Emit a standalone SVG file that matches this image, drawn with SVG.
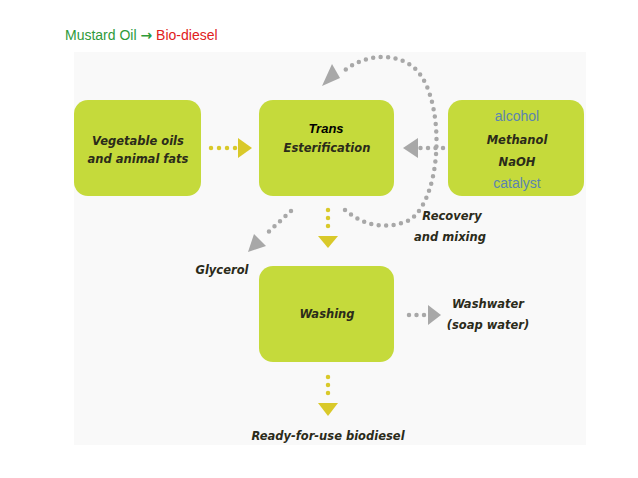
<svg xmlns="http://www.w3.org/2000/svg" width="638" height="478" viewBox="0 0 638 478">
<style>
.box{fill:#c5da3b}
.lbl{font-family:"DejaVu Sans",sans-serif;font-weight:bold;font-style:italic;font-size:11.5px;fill:#2b2b1a;text-anchor:middle}
.blue{font-family:"Liberation Sans",sans-serif;font-size:14px;fill:#5b84b0;text-anchor:middle}
.dy{stroke:#d9c92a;stroke-width:4.5;stroke-linecap:round;stroke-dasharray:0 8;fill:none}
.dg{stroke:#a8a8a8;stroke-width:4.5;stroke-linecap:round;stroke-dasharray:0 7.5;fill:none}
</style>
<rect width="638" height="478" fill="#fff"/>
<rect x="74" y="52" width="512" height="393" fill="#f9f9f9"/>
<text x="65" y="40" font-family="Liberation Sans,sans-serif" font-size="14"><tspan fill="#2e9a3a">Mustard Oil </tspan><tspan fill="#2e9a3a" font-family="DejaVu Sans,sans-serif" font-weight="bold">→</tspan><tspan fill="#e02020"> Bio-diesel</tspan></text>
<g id="veg"><rect class="box" x="74" y="100" width="127" height="96" rx="14"/><text class="lbl" x="138" y="145">Vegetable oils</text><text class="lbl" x="138" y="163">and animal fats</text></g>
<g id="trans"><rect class="box" x="259" y="100" width="135" height="96" rx="14"/><text x="326" y="133" font-family="Liberation Sans,sans-serif" font-weight="bold" font-style="italic" font-size="13" text-anchor="middle">Trans</text><text class="lbl" x="327" y="152">Esterification</text></g>
<g id="meth"><rect class="box" x="448" y="100" width="136" height="96" rx="14"/><text class="blue" x="517" y="121">alcohol</text><text class="lbl" x="517" y="144">Methanol</text><text class="lbl" x="517" y="166">NaOH</text><text class="blue" x="517" y="188">catalyst</text></g>
<g id="wash"><rect class="box" x="259" y="266" width="135" height="96" rx="14"/><text class="lbl" x="327" y="318">Washing</text></g>
<g id="texts">
<text class="lbl" x="452" y="220">Recovery</text><text class="lbl" x="450" y="241">and mixing</text>
<text class="lbl" x="222" y="274">Glycerol</text>
<text class="lbl" x="488" y="308">Washwater</text><text class="lbl" x="488" y="329">(soap water)</text>
<text class="lbl" x="328" y="440">Ready-for-use biodiesel</text>
</g>
<g id="connectors">
<path class="dy" d="M211 148 H236"/><polygon points="238,138 252,148 238,158" fill="#d9c92a"/>
<path class="dg" d="M443 148 H420"/><polygon points="418,138 403,148 418,158" fill="#a8a8a8"/>
<path class="dg" d="M345 210 Q375 235 410 220 C445 195 445 90 412 66 C392 52 365 55 345 70"/><polygon points="322,86 340,78 332,64" fill="#a8a8a8"/>
<path class="dy" d="M328 210 V228"/><polygon points="318,236 338,236 328,248" fill="#d9c92a"/>
<path class="dg" d="M291 211 L264 236"/><polygon points="248,252 254,234 266,246" fill="#a8a8a8"/>
<path class="dg" d="M409 315 H426"/><polygon points="428,305 441,315 428,325" fill="#a8a8a8"/>
<path class="dy" d="M328 377 V398"/><polygon points="318,403 338,403 328,416" fill="#d9c92a"/>
</g>
</svg>
